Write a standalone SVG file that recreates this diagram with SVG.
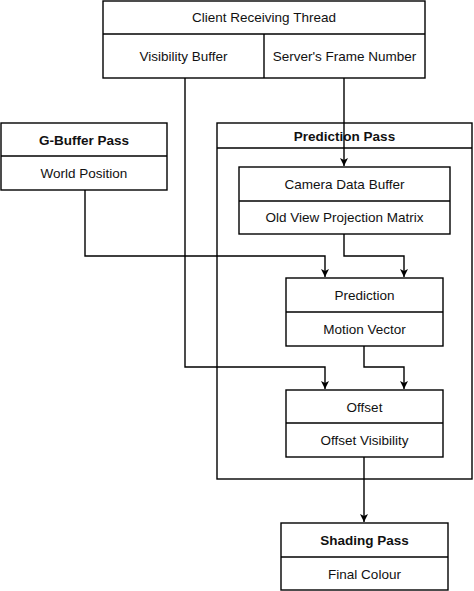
<svg xmlns="http://www.w3.org/2000/svg" width="474" height="591" viewBox="0 0 474 591">
<defs>
<marker id="arr" markerWidth="10" markerHeight="10" refX="8" refY="5" orient="auto" markerUnits="userSpaceOnUse">
<path d="M0,1 L8,5 L0,9 L2,5 Z" fill="#000"/>
</marker>
<style>
.box{fill:#fff;stroke:#000;stroke-width:1.4}
.ln{fill:none;stroke:#000;stroke-width:1.4}
.t{font-family:"Liberation Sans",Arial,sans-serif;font-size:13.5px;fill:#111;text-anchor:middle;dominant-baseline:central}
.b{font-weight:bold}
.c{fill:none;stroke:#000;stroke-width:1.4}
</style>
</defs>
<rect width="474" height="591" fill="#fff"/>
<g id="prediction-pass">
<rect class="box" x="217" y="123" width="255" height="356"/>
<line class="ln" x1="217" y1="148" x2="472" y2="148"/>
<text class="t b" x="344.5" y="136">Prediction Pass</text>
</g>
<g id="client-receiving-thread">
<rect class="box" x="103" y="1" width="322" height="77"/>
<line class="ln" x1="103" y1="34" x2="425" y2="34"/>
<line class="ln" x1="264" y1="34" x2="264" y2="78"/>
<text class="t" x="264" y="17.5">Client Receiving Thread</text>
<text class="t" x="183.5" y="56">Visibility Buffer</text>
<text class="t" x="344.5" y="56">Server's Frame Number</text>
</g>
<g id="g-buffer-pass">
<rect class="box" x="1" y="123" width="166" height="67"/>
<line class="ln" x1="1" y1="156" x2="167" y2="156"/>
<text class="t b" x="84" y="140">G-Buffer Pass</text>
<text class="t" x="84" y="173">World Position</text>
</g>
<g id="camera-data-buffer">
<rect class="box" x="239" y="167" width="211" height="67"/>
<line class="ln" x1="239" y1="201" x2="450" y2="201"/>
<text class="t" x="344.5" y="184">Camera Data Buffer</text>
<text class="t" x="344.5" y="217.5">Old View Projection Matrix</text>
</g>
<g id="prediction">
<rect class="box" x="286" y="278" width="157" height="68"/>
<line class="ln" x1="286" y1="312" x2="443" y2="312"/>
<text class="t" x="364.5" y="295.5">Prediction</text>
<text class="t" x="364.5" y="329">Motion Vector</text>
</g>
<g id="offset">
<rect class="box" x="286" y="390" width="157" height="67"/>
<line class="ln" x1="286" y1="423" x2="443" y2="423"/>
<text class="t" x="364.5" y="407">Offset</text>
<text class="t" x="364.5" y="440">Offset Visibility</text>
</g>
<g id="shading-pass">
<rect class="box" x="281" y="523" width="167" height="67"/>
<line class="ln" x1="281" y1="557" x2="448" y2="557"/>
<text class="t b" x="364.5" y="540">Shading Pass</text>
<text class="t" x="364.5" y="574">Final Colour</text>
</g>
<g id="connectors">
<path class="c" d="M344,78 L344,166" marker-end="url(#arr)"/>
<path class="c" d="M85,190 L85,256 L325,256 L325,277" marker-end="url(#arr)"/>
<path class="c" d="M344,234 L344,256 L404,256 L404,277" marker-end="url(#arr)"/>
<path class="c" d="M185,78 L185,367 L325,367 L325,389" marker-end="url(#arr)"/>
<path class="c" d="M364,346 L364,367 L404,367 L404,389" marker-end="url(#arr)"/>
<path class="c" d="M364,457 L364,522" marker-end="url(#arr)"/>
</g>
</svg>
